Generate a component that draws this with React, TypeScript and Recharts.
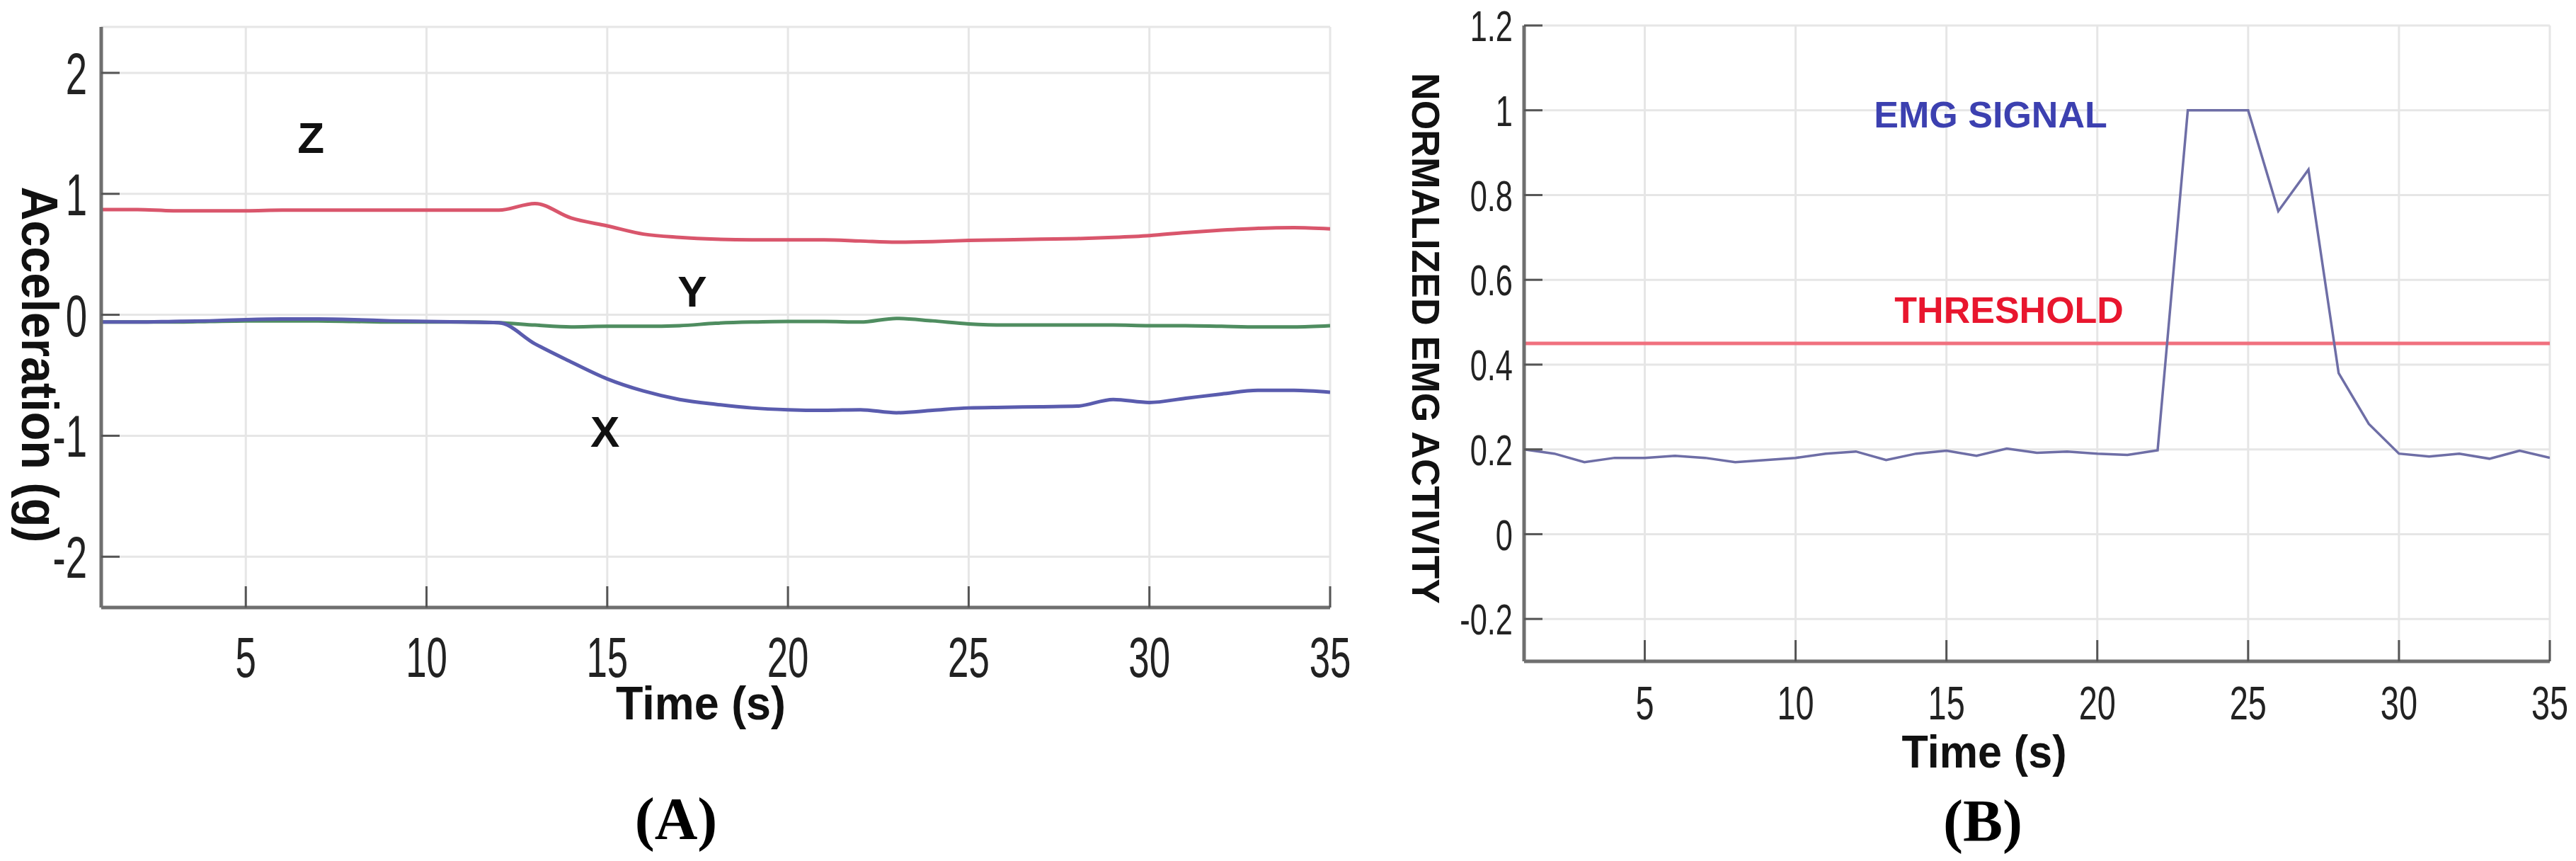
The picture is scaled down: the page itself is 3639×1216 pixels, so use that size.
import React from 'react';
import { LineChart, Line, XAxis, YAxis, CartesianGrid, ReferenceLine, ReferenceDot } from 'recharts';

// time axis (s), shared by both panels
const time = [1, 2, 3, 4, 5, 6, 7, 8, 9, 10, 11, 12, 13, 14, 15, 16, 17, 18, 19, 20, 21, 22, 23, 24, 25, 26, 27, 28, 29, 30, 31, 32, 33, 34, 35];

// panel A: accelerometer axes (g)
const accZ = [0.87, 0.87, 0.86, 0.86, 0.86, 0.865, 0.865, 0.865, 0.865, 0.865, 0.865, 0.865, 0.92, 0.8, 0.735, 0.667, 0.64, 0.625, 0.62, 0.62, 0.62, 0.61, 0.6, 0.605, 0.615, 0.62, 0.625, 0.63, 0.64, 0.655, 0.68, 0.7, 0.715, 0.72, 0.71];
const accY = [-0.06, -0.06, -0.06, -0.055, -0.05, -0.05, -0.05, -0.055, -0.06, -0.06, -0.06, -0.065, -0.085, -0.1, -0.095, -0.095, -0.09, -0.07, -0.06, -0.055, -0.055, -0.06, -0.03, -0.05, -0.075, -0.085, -0.085, -0.085, -0.085, -0.09, -0.09, -0.095, -0.1, -0.1, -0.09];
const accX = [-0.06, -0.06, -0.055, -0.05, -0.04, -0.035, -0.035, -0.04, -0.05, -0.055, -0.06, -0.065, -0.24, -0.39, -0.53, -0.63, -0.7, -0.74, -0.77, -0.785, -0.79, -0.785, -0.81, -0.79, -0.77, -0.765, -0.76, -0.755, -0.7, -0.725, -0.69, -0.655, -0.625, -0.625, -0.64];

// panel B: normalized EMG activity
const emg = [0.2, 0.19, 0.17, 0.18, 0.18, 0.185, 0.18, 0.17, 0.175, 0.18, 0.19, 0.195, 0.175, 0.19, 0.197, 0.185, 0.202, 0.192, 0.195, 0.19, 0.187, 0.198, 1.0, 1.0, 1.0, 0.762, 0.86, 0.38, 0.26, 0.19, 0.183, 0.19, 0.178, 0.197, 0.18];
const threshold = 0.45;

const timeTicks = [5, 10, 15, 20, 25, 30, 35];
const accTicks = [-2, -1, 0, 1, 2];
const emgTicks = [-0.2, 0, 0.2, 0.4, 0.6, 0.8, 1, 1.2];

const accRows = time.map((t, i) => ({ t, z: accZ[i], y: accY[i], x: accX[i] }));
const emgRows = time.map((t, i) => ({ t, emg: emg[i] }));

const FONT = '"Liberation Sans", Arial, sans-serif';
const BOX = '#6f6f6f';
const TICK = '#555';
const GRID = '#e6e6e6';

// matlab-ish narrow tick labels, with inward tick marks drawn at the axis line
const bottomTick = (size: number, sx: number, off: number) => (props: any) => {
    const { x, y, payload } = props;
    return (
        <g>
            <line x1={x} y1={y} x2={x} y2={y - 30} stroke={TICK} strokeWidth={3} />
            <text transform={`translate(${x},${y + off}) scale(${sx},1)`} textAnchor="middle" fontSize={size} fontFamily={FONT} fill="#222">
                {payload.value}
            </text>
        </g>
    );
};

const leftTick = (size: number, sx: number, gap: number) => (props: any) => {
    const { x, y, payload } = props;
    return (
        <g>
            <line x1={x} y1={y} x2={x + 26} y2={y} stroke={TICK} strokeWidth={3} />
            <text transform={`translate(${x - gap},${y + size * 0.358}) scale(${sx},1)`} textAnchor="end" fontSize={size} fontFamily={FONT} fill="#222">
                {payload.value}
            </text>
        </g>
    );
};

const topTick = (props: any) => {
    const { x, y } = props;
    return <line x1={x} y1={y} x2={x} y2={y + 30} stroke={TICK} strokeWidth={3} />;
};

const rightTick = (props: any) => {
    const { x, y } = props;
    return <line x1={x} y1={y} x2={x - 26} y2={y} stroke={TICK} strokeWidth={3} />;
};

const note = (text: string, color: string, size: number, anchor: 'start' | 'middle') => (props: any) => {
    const vb = props.viewBox || {};
    const cx = vb.x + (vb.width || 0) / 2;
    const cy = vb.y + (vb.height || 0) / 2;
    return (
        <text x={cx} y={cy + size * 0.358} textAnchor={anchor} fontSize={size} fontWeight="bold" fontFamily={FONT} fill={color}>
            {text}
        </text>
    );
};

const PanelA = () => (
    <LineChart width={1930} height={1216} data={accRows} margin={{ top: 38, right: 51, bottom: 258, left: 0 }}>
        <CartesianGrid stroke={GRID} strokeWidth={3} />
        <XAxis dataKey="t" type="number" domain={[1, 35]} ticks={timeTicks} allowDataOverflow height={100}
            axisLine={{ stroke: BOX, strokeWidth: 5 }} tickLine={false} tickSize={0} tickMargin={0} tick={bottomTick(80, 0.66, 98)} />
        <XAxis xAxisId="top" orientation="top" dataKey="t" type="number" domain={[1, 35]} ticks={timeTicks} allowDataOverflow height={0}
            axisLine={{ stroke: BOX, strokeWidth: 5 }} tickLine={false} tickSize={0} tickMargin={0} tick={topTick} />
        <YAxis type="number" domain={[-2.42, 2.38]} ticks={accTicks} allowDataOverflow width={143}
            axisLine={{ stroke: BOX, strokeWidth: 5 }} tickLine={false} tickSize={0} tickMargin={0} tick={leftTick(84, 0.65, 20)} />
        <YAxis yAxisId="right" orientation="right" type="number" domain={[-2.42, 2.38]} ticks={accTicks} allowDataOverflow width={0}
            axisLine={{ stroke: BOX, strokeWidth: 5 }} tickLine={false} tickSize={0} tickMargin={0} tick={rightTick} />
        <Line dataKey="z" type="monotone" stroke="#d9566c" strokeWidth={5} dot={false} isAnimationActive={false} />
        <Line dataKey="y" type="monotone" stroke="#4f8d60" strokeWidth={5} dot={false} isAnimationActive={false} />
        <Line dataKey="x" type="monotone" stroke="#5a5cae" strokeWidth={5} dot={false} isAnimationActive={false} />
        <ReferenceDot x={6.8} y={1.47} r={1} fill="none" stroke="none" ifOverflow="visible" label={note('Z', '#111', 62, 'middle')} />
        <ReferenceDot x={17.35} y={0.2} r={1} fill="none" stroke="none" ifOverflow="visible" label={note('Y', '#111', 62, 'middle')} />
        <ReferenceDot x={14.94} y={-0.96} r={1} fill="none" stroke="none" ifOverflow="visible" label={note('X', '#111', 62, 'middle')} />
    </LineChart>
);

const PanelB = () => (
    <LineChart width={1739} height={1216} data={emgRows} margin={{ top: 36, right: 37, bottom: 182, left: 0 }}>
        <CartesianGrid stroke={GRID} strokeWidth={3} />
        <XAxis dataKey="t" type="number" domain={[1, 35]} ticks={timeTicks} allowDataOverflow height={100}
            axisLine={{ stroke: BOX, strokeWidth: 5 }} tickLine={false} tickSize={0} tickMargin={0} tick={bottomTick(67, 0.7, 82)} />
        <XAxis xAxisId="top" orientation="top" dataKey="t" type="number" domain={[1, 35]} ticks={timeTicks} allowDataOverflow height={0}
            axisLine={{ stroke: BOX, strokeWidth: 5 }} tickLine={false} tickSize={0} tickMargin={0} tick={topTick} />
        <YAxis type="number" domain={[-0.3, 1.2]} ticks={emgTicks} allowDataOverflow width={253}
            axisLine={{ stroke: BOX, strokeWidth: 5 }} tickLine={false} tickSize={0} tickMargin={0} tick={leftTick(62, 0.7, 16)} />
        <YAxis yAxisId="right" orientation="right" type="number" domain={[-0.3, 1.2]} ticks={emgTicks} allowDataOverflow width={0}
            axisLine={{ stroke: BOX, strokeWidth: 5 }} tickLine={false} tickSize={0} tickMargin={0} tick={rightTick} />
        <ReferenceLine y={threshold} stroke="#f0707e" strokeWidth={5} />
        <Line dataKey="emg" type="linear" stroke="#6e6ea6" strokeWidth={3.5} dot={false} isAnimationActive={false} />
        <ReferenceDot x={12.6} y={0.99} r={1} fill="none" stroke="none" ifOverflow="visible" label={note('EMG SIGNAL', '#3c40b0', 52, 'start')} />
        <ReferenceDot x={13.28} y={0.53} r={1} fill="none" stroke="none" ifOverflow="visible" label={note('THRESHOLD', '#e8162e', 52, 'start')} />
    </LineChart>
);

export default function App() {
    return (
        <div style={{ position: 'absolute', left: 0, top: 0, width: 3639, height: 1216, background: '#fff', overflow: 'hidden' }}>
            <div style={{ position: 'absolute', left: 0, top: 0 }}>
                <PanelA />
            </div>
            <div style={{ position: 'absolute', left: 1900, top: 0 }}>
                <PanelB />
            </div>
            <svg width={3639} height={1216} style={{ position: 'absolute', left: 0, top: 0, pointerEvents: 'none' }}>
                <g fontFamily={FONT} fontWeight="bold" fill="#111">
                    <text x={990} y={1016} textAnchor="middle" fontSize={66} textLength={240} lengthAdjust="spacingAndGlyphs">Time (s)</text>
                    <text transform="translate(31,515) rotate(90)" textAnchor="middle" fontSize={72} textLength={503} lengthAdjust="spacingAndGlyphs">Acceleration (g)</text>
                    <text x={2803} y={1084} textAnchor="middle" fontSize={64} textLength={233} lengthAdjust="spacingAndGlyphs">Time (s)</text>
                    <text transform="translate(1995,478) rotate(90)" textAnchor="middle" fontSize={55} textLength={750} lengthAdjust="spacingAndGlyphs">NORMALIZED EMG ACTIVITY</text>
                </g>
                <g fontFamily='"Liberation Serif", "Times New Roman", serif' fontWeight="bold" fill="#000" fontSize={84}>
                    <text x={955} y={1185} textAnchor="middle">(A)</text>
                    <text x={2801} y={1188} textAnchor="middle">(B)</text>
                </g>
            </svg>
        </div>
    );
}
